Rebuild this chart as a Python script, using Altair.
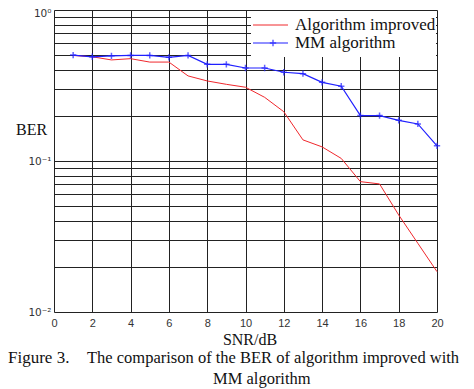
import altair as alt
import pandas as pd

# ---- data ----
snr = list(range(1, 21))
ber_improved = [0.50, 0.49, 0.467, 0.476, 0.452, 0.452, 0.366, 0.339, 0.322, 0.308,
                0.264, 0.212, 0.138, 0.124, 0.104, 0.073, 0.0705, 0.0439, 0.0285, 0.0185]
ber_mm = [0.503, 0.49, 0.497, 0.50, 0.50, 0.486, 0.50, 0.437, 0.437, 0.413,
          0.413, 0.387, 0.379, 0.332, 0.313, 0.20, 0.20, 0.186, 0.176, 0.126]
series_names = ["Algorithm improved", "MM algorithm"]
x_ticks = list(range(0, 21, 2))
y_ticks = [0.01, 0.02, 0.03, 0.04, 0.05, 0.06, 0.07, 0.08, 0.09,
           0.1, 0.2, 0.3, 0.4, 0.5, 0.6, 0.7, 0.8, 0.9, 1]
caption_1 = "Figure 3."
caption_2 = "The comparison of the BER of algorithm improved with"
caption_3 = "MM algorithm"

df = pd.DataFrame({
    "snr": snr + snr,
    "ber": ber_improved + ber_mm,
    "series": [series_names[0]] * len(snr) + [series_names[1]] * len(snr),
})

W, H = 383, 302
RED = "#f0282d"
BLUE = "#2020ff"
SERIF = "Liberation Serif"
SANS = "Liberation Sans"

x_enc = alt.X("snr:Q", scale=alt.Scale(domain=[0, 20], nice=False),
              axis=alt.Axis(values=x_ticks, title=None, grid=True, gridColor="#222",
                            gridOpacity=1, gridWidth=1, ticks=False, domain=False,
                            labelFont=SANS, labelFontSize=11, labelColor="#333",
                            labelPadding=5, labelFlush=False))
y_enc = alt.Y("ber:Q", scale=alt.Scale(type="log", domain=[0.01, 1], nice=False),
              axis=alt.Axis(values=y_ticks, title=None, grid=True, gridColor="#222",
                            gridOpacity=1, gridWidth=1, ticks=False, domain=False,
                            labelFont="DejaVu Sans", labelFontSize=10.5, labelColor="#333",
                            labelPadding=3, labelFlush=False,
                            labelOffset={"condition": {"test": "datum.value == 1", "value": 3}, "value": 0},
                            labelExpr="datum.value == 1 ? '10⁰' : datum.value == 0.1 ? '10⁻¹' : datum.value == 0.01 ? '10⁻²' : ''"))

base = alt.Chart(df)
red = base.transform_filter(alt.datum.series == series_names[0]).mark_line(
    color=RED, strokeWidth=1).encode(x=x_enc, y=y_enc)
blue = base.transform_filter(alt.datum.series == series_names[1]).mark_line(
    color=BLUE, strokeWidth=1.2).encode(x=x_enc, y=y_enc)
cross = "M-1,0L1,0M0,-1L0,1"
blue_pts = base.transform_filter(alt.datum.series == series_names[1]).mark_point(
    shape=cross, filled=False, stroke=BLUE, strokeWidth=1.5, size=40).encode(x=x_enc, y=y_enc)

# legend (drawn as decoration)
leg_box = alt.Chart(pd.DataFrame({"a": [0]})).mark_rect(
    fill="white", strokeWidth=0).encode(
    x=alt.value(197), x2=alt.value(W - 1), y=alt.value(1), y2=alt.value(47))
leg_df = pd.DataFrame({"name": series_names})
leg_red = alt.Chart(leg_df.iloc[[0]]).mark_rule(color=RED, strokeWidth=1).encode(
    x=alt.value(199), x2=alt.value(234), y=alt.value(15))
leg_blue = alt.Chart(leg_df.iloc[[1]]).mark_rule(color=BLUE, strokeWidth=1.2).encode(
    x=alt.value(199), x2=alt.value(234), y=alt.value(33))
leg_pt = alt.Chart(leg_df.iloc[[1]]).mark_point(
    shape=cross, filled=False, stroke=BLUE, strokeWidth=1.5, size=40).encode(
    x=alt.value(219), y=alt.value(33))
leg_t1 = alt.Chart(leg_df.iloc[[0]]).mark_text(
    font=SERIF, fontSize=17, align="left", baseline="middle", color="#111").encode(
    x=alt.value(241), y=alt.value(15), text="name:N")
leg_t2 = alt.Chart(leg_df.iloc[[1]]).mark_text(
    font=SERIF, fontSize=17, align="left", baseline="middle", color="#111").encode(
    x=alt.value(241), y=alt.value(33), text="name:N")

def label(txt, x, y, size=17, align="left"):
    return alt.Chart(pd.DataFrame({"t": [txt]})).mark_text(
        font=SERIF, fontSize=size, align=align, baseline="middle", color="#111").encode(
        x=alt.value(x), y=alt.value(y), text="t:N")

ber_lbl = label("BER", -38, 120, size=16)
snr_lbl = label("SNR/dB", 196, 330, size=16, align="center")
cap1 = label(caption_1, -46, 348)
cap2 = label(caption_2, 33, 348, size=16.5)
cap3 = label(caption_3, 159, 369, size=16.5)

chart = alt.layer(
    red, blue, blue_pts, leg_box, leg_red, leg_blue, leg_pt, leg_t1, leg_t2,
    ber_lbl, snr_lbl, cap1, cap2, cap3
).properties(
    width=W, height=H,
    autosize=alt.AutoSizeParams(type="none"),
    padding={"left": 46, "top": 2, "right": 29, "bottom": 77},
).configure_view(stroke="#222", strokeWidth=1.2, fill="white").configure(background="white")

chart.save("out.html", embed_options={"renderer": "svg", "actions": False})
